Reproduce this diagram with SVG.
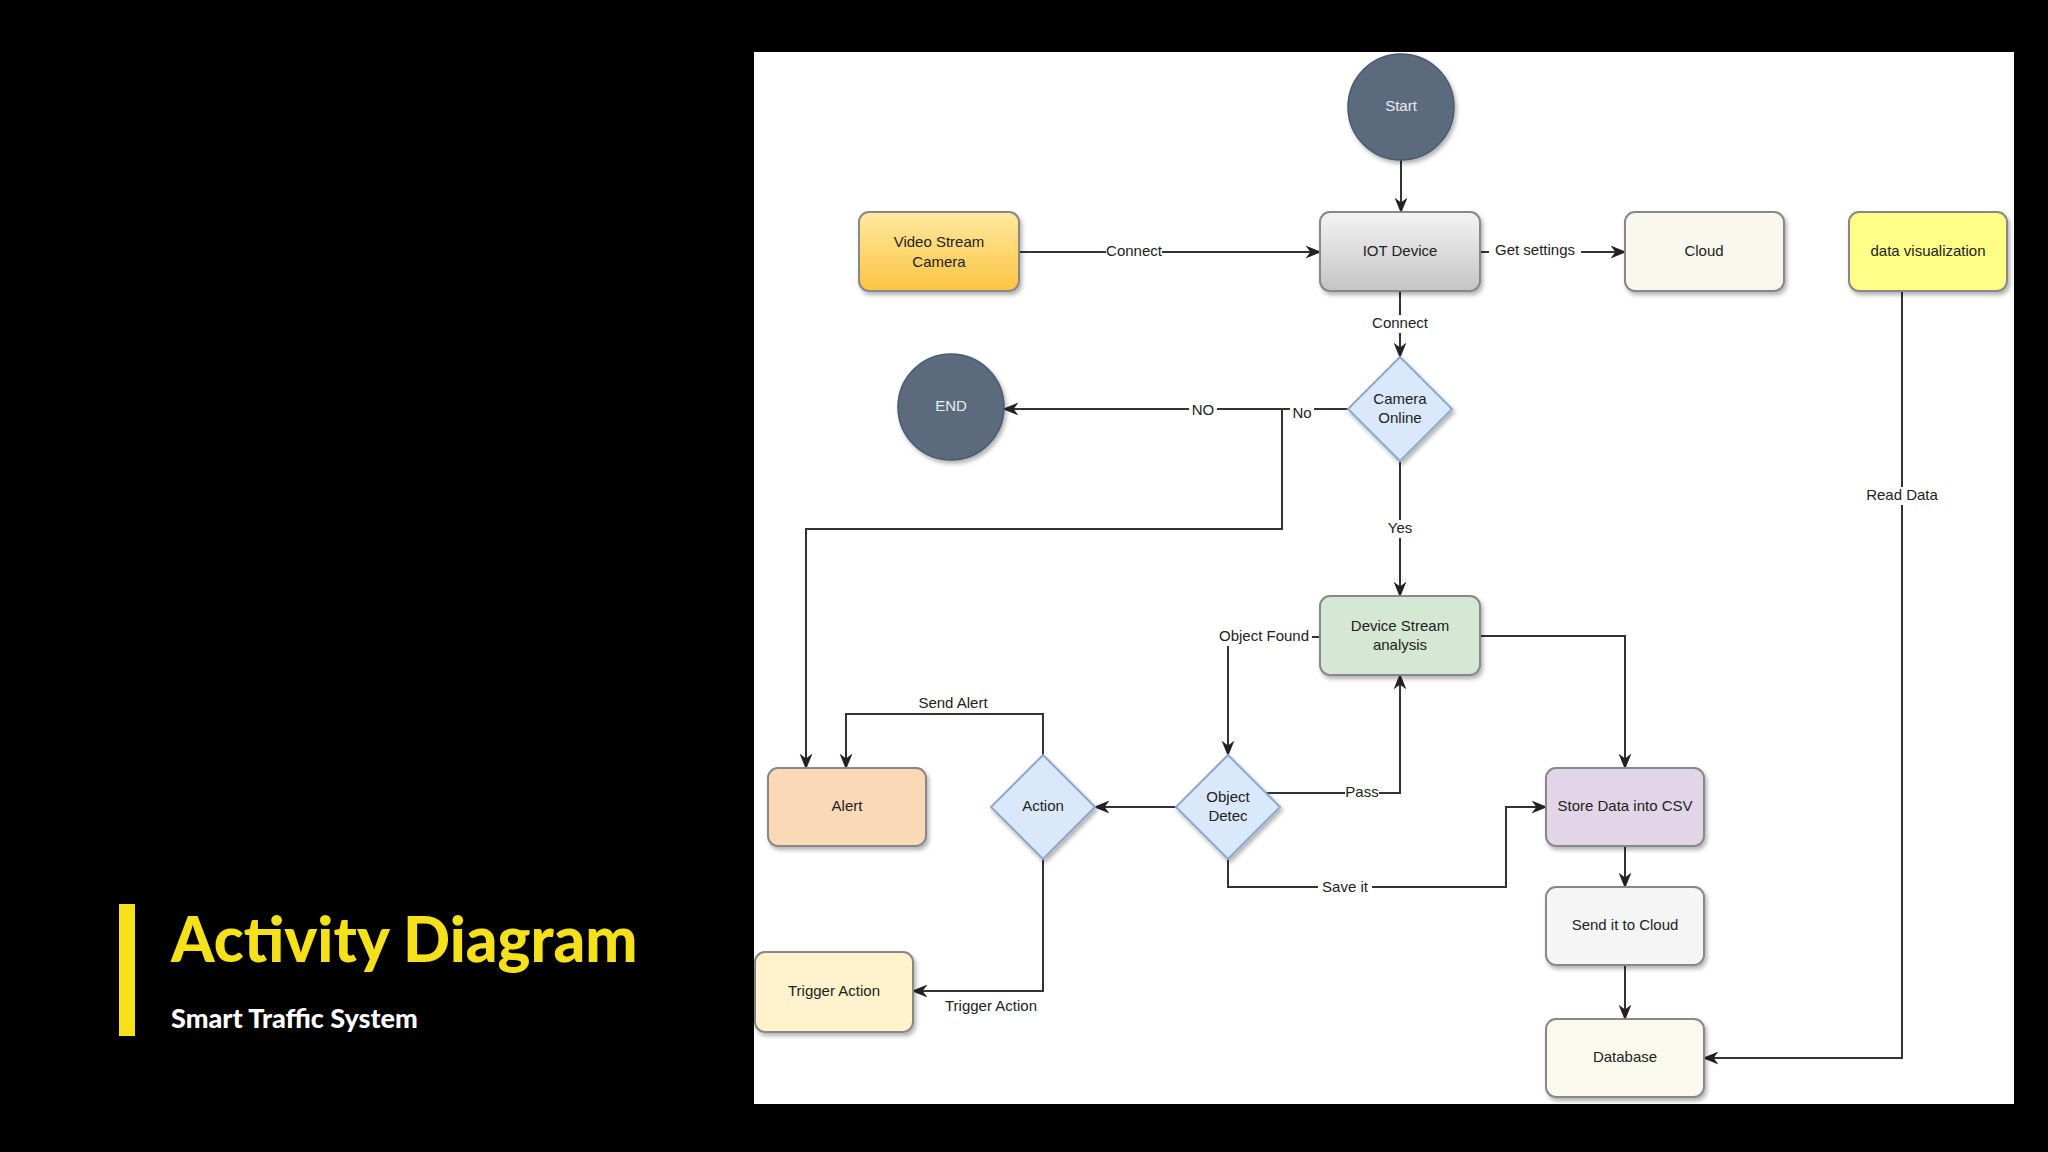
<svg xmlns="http://www.w3.org/2000/svg" width="2048" height="1152" viewBox="0 0 2048 1152">
<defs>
<linearGradient id="gy" x1="0" y1="0" x2="0" y2="1"><stop offset="0" stop-color="#ffe9a0"/><stop offset="1" stop-color="#fbc442"/></linearGradient>
<linearGradient id="gg" x1="0" y1="0" x2="0" y2="1"><stop offset="0" stop-color="#f4f4f4"/><stop offset="1" stop-color="#c4c4c4"/></linearGradient>
<filter id="sh" x="-10%" y="-10%" width="130%" height="130%"><feDropShadow dx="2" dy="3" stdDeviation="2" flood-color="#000" flood-opacity="0.3"/></filter>
<marker id="ar" viewBox="0 0 10 10" refX="9" refY="5" markerWidth="8" markerHeight="8" orient="auto"><path d="M0,1 L10,5 L0,9 L3,5 Z" fill="#222"/></marker>
</defs>
<style>
.box{stroke:#888;stroke-width:2;filter:url(#sh)}
.dia{fill:#dae8fc;stroke:#8ea8cc;stroke-width:2;filter:url(#sh)}
.circ{fill:#5b6b7e;stroke:#4a5a6c;stroke-width:1.5;filter:url(#sh)}
.t{font-family:"Liberation Sans",Arial,sans-serif;font-size:15px;fill:#222;text-anchor:middle;dominant-baseline:middle}
.tw{fill:#e8ecf0}
.c{fill:none;stroke:#333;stroke-width:2;marker-end:url(#ar)}
.cn{fill:none;stroke:#333;stroke-width:2}
.lb{font-family:"Liberation Sans",Arial,sans-serif;font-size:15px;fill:#222;text-anchor:middle;dominant-baseline:middle}
.lbg{fill:#fff}
</style>
<rect width="2048" height="1152" fill="#000"/>
<rect x="754" y="52" width="1260" height="1052" fill="#fff"/>

<g id="title">
<rect x="119" y="904" width="16" height="132" fill="#f5e11a"/>
<text x="171" y="962" font-family="Lato,'Liberation Sans',sans-serif" font-weight="900" font-size="62" fill="#f5e11a">Activity Diagram</text>
<text x="171" y="1028" font-family="Lato,'Liberation Sans',sans-serif" font-weight="900" font-size="27" fill="#fff">Smart Traffic System</text>
</g>

<g id="connectors">
<path class="c" d="M1401,160 V212"/>
<path class="c" d="M1019,252 H1320"/>
<path class="c" d="M1480,252 H1625"/>
<path class="c" d="M1400,291 V357"/>
<path class="c" d="M1348,409 H1004"/>
<path class="c" d="M1282,409 V529 H806 V768"/>
<path class="c" d="M1400,461 V596"/>
<path class="c" d="M1320,637 H1228 V755"/>
<path class="c" d="M1266,793 H1400 V675"/>
<path class="c" d="M1176,807 H1095"/>
<path class="c" d="M1228,859 V887 H1506 V807 H1546"/>
<path class="c" d="M1480,636 H1625 V768"/>
<path class="c" d="M1043,755 V714 H846 V768"/>
<path class="c" d="M1043,859 V991 H913"/>
<path class="c" d="M1625,846 V887"/>
<path class="c" d="M1625,965 V1019"/>
<path class="c" d="M1902,291 V1058 H1704"/>
<g>
<rect class="lbg" x="1106" y="243" width="56" height="18"/><text class="lb" x="1134" y="252">Connect</text>
<rect class="lbg" x="1489" y="243" width="92" height="18"/><text class="lb" x="1535" y="251">Get settings</text>
<rect class="lbg" x="1372" y="315" width="56" height="18"/><text class="lb" x="1400" y="324">Connect</text>
<rect class="lbg" x="1290" y="405" width="24" height="18"/><text class="lb" x="1302" y="414">No</text>
<rect class="lbg" x="1189" y="402" width="28" height="18"/><text class="lb" x="1203" y="411">NO</text>
<rect class="lbg" x="1386" y="520" width="28" height="18"/><text class="lb" x="1400" y="529">Yes</text>
<rect class="lbg" x="1216" y="628" width="96" height="18"/><text class="lb" x="1264" y="637">Object Found</text>
<rect class="lbg" x="1345" y="784" width="34" height="18"/><text class="lb" x="1362" y="793">Pass</text>
<rect class="lbg" x="1318" y="879" width="54" height="18"/><text class="lb" x="1345" y="888">Save it</text>
<rect class="lbg" x="910" y="695" width="86" height="18"/><text class="lb" x="953" y="704">Send Alert</text>
<rect class="lbg" x="937" y="998" width="108" height="18"/><text class="lb" x="991" y="1007">Trigger Action</text>
<rect class="lbg" x="1862" y="487" width="80" height="18"/><text class="lb" x="1902" y="496">Read Data</text>
</g>
</g>

<g id="start"><circle class="circ" cx="1401" cy="107" r="53"/><text class="t tw" x="1401" y="107">Start</text></g>
<g id="end"><circle class="circ" cx="951" cy="407" r="53"/><text class="t tw" x="951" y="407">END</text></g>
<g id="video"><rect class="box" x="859" y="212" width="160" height="79" rx="10" fill="url(#gy)" stroke="#d9a93a"/><text class="t" x="939" y="243">Video Stream</text><text class="t" x="939" y="263">Camera</text></g>
<g id="iot"><rect class="box" x="1320" y="212" width="160" height="79" rx="10" fill="url(#gg)"/><text class="t" x="1400" y="252">IOT Device</text></g>
<g id="cloud"><rect class="box" x="1625" y="212" width="159" height="79" rx="10" fill="#f8f8ee"/><text class="t" x="1704" y="252">Cloud</text></g>
<g id="dataviz"><rect class="box" x="1849" y="212" width="158" height="79" rx="10" fill="#ffff88" stroke="#c8c030"/><text class="t" x="1928" y="252">data visualization</text></g>
<g id="camonline"><path class="dia" d="M1400,357 L1452,409 L1400,461 L1348,409 Z"/><text class="t" x="1400" y="400">Camera</text><text class="t" x="1400" y="419">Online</text></g>
<g id="dsa"><rect class="box" x="1320" y="596" width="160" height="79" rx="10" fill="#d5e8d4" stroke="#8fb88c"/><text class="t" x="1400" y="627">Device Stream</text><text class="t" x="1400" y="646">analysis</text></g>
<g id="objdetec"><path class="dia" d="M1228,755 L1280,807 L1228,859 L1176,807 Z"/><text class="t" x="1228" y="798">Object</text><text class="t" x="1228" y="817">Detec</text></g>
<g id="action"><path class="dia" d="M1043,755 L1095,807 L1043,859 L991,807 Z"/><text class="t" x="1043" y="807">Action</text></g>
<g id="alert"><rect class="box" x="768" y="768" width="158" height="78" rx="10" fill="#fad9b6" stroke="#d9a878"/><text class="t" x="847" y="807">Alert</text></g>
<g id="trigger"><rect class="box" x="755" y="952" width="158" height="80" rx="10" fill="#fff2cc" stroke="#d6c48a"/><text class="t" x="834" y="992">Trigger Action</text></g>
<g id="store"><rect class="box" x="1546" y="768" width="158" height="78" rx="10" fill="#e1d5e7" stroke="#a88fb8"/><text class="t" x="1625" y="807">Store Data into CSV</text></g>
<g id="sendcloud"><rect class="box" x="1546" y="887" width="158" height="78" rx="10" fill="#f5f5f5"/><text class="t" x="1625" y="926" fill="#555">Send it to Cloud</text></g>
<g id="database"><rect class="box" x="1546" y="1019" width="158" height="78" rx="10" fill="#f9f9ee"/><text class="t" x="1625" y="1058">Database</text></g>
</svg>
